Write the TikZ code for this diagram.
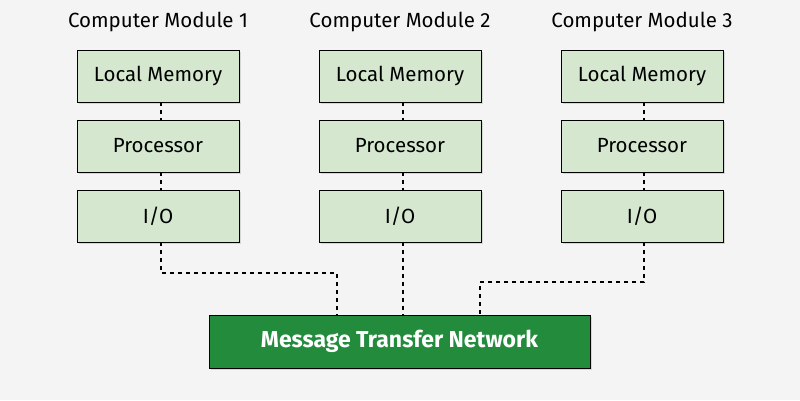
\documentclass[tikz,border=0pt]{standalone}
\usepackage{fontspec}
\setmainfont{Fira Sans}
\usetikzlibrary{shadows}
\definecolor{bg}{HTML}{F4F4F4}
\definecolor{lg}{HTML}{D5E8CF}
\definecolor{dg}{HTML}{228B3C}
\begin{document}
\begin{tikzpicture}[x=1pt,y=-1pt,
  box/.style={draw=black,fill=lg,minimum width=162pt,minimum height=52pt,inner sep=0,font=\fontsize{20.5}{22}\selectfont,drop shadow={shadow xshift=1.5pt,shadow yshift=-1.5pt,opacity=0.25}},
  net/.style={draw=black,fill=dg,text=white,minimum width=381pt,minimum height=53pt,inner sep=0,font=\fontsize{23}{25}\selectfont\bfseries,drop shadow={shadow xshift=1.5pt,shadow yshift=-1.5pt,opacity=0.25}},
  title/.style={font=\fontsize{20.5}{22}\selectfont},
  link/.style={draw=black,line width=1.3pt,dash pattern=on 4pt off 4pt}]
\fill[bg] (0,0) rectangle (800,400);
\foreach \i/\x in {1/158,2/400,3/642}{
  \node[title] (t\i) at (\x,22) {Computer Module \i};
  \node[box] (m\i) at (\x,76) {Local Memory};
  \node[box] (p\i) at (\x,146) {Processor};
  \node[box] (o\i) at (\x,216) {I/O};
}
\foreach \i/\x in {1/161,2/403,3/644}{
  \draw[link] (\x,102) -- (\x,120);
  \draw[link] (\x,172) -- (\x,190);
}
\node[net] (n) at (399.5,341.5) {Message Transfer Network};
\coordinate (a1) at (161,273);
\coordinate (a2) at (337,273);
\coordinate (c1) at (644,282);
\coordinate (c2) at (480,282);
\draw[link] (161,242) -- (a1) -- (a2) -- (337,315);
\draw[link] (403,242) -- (403,315);
\draw[link] (644,242) -- (c1) -- (c2) -- (480,315);
\end{tikzpicture}
\end{document}
